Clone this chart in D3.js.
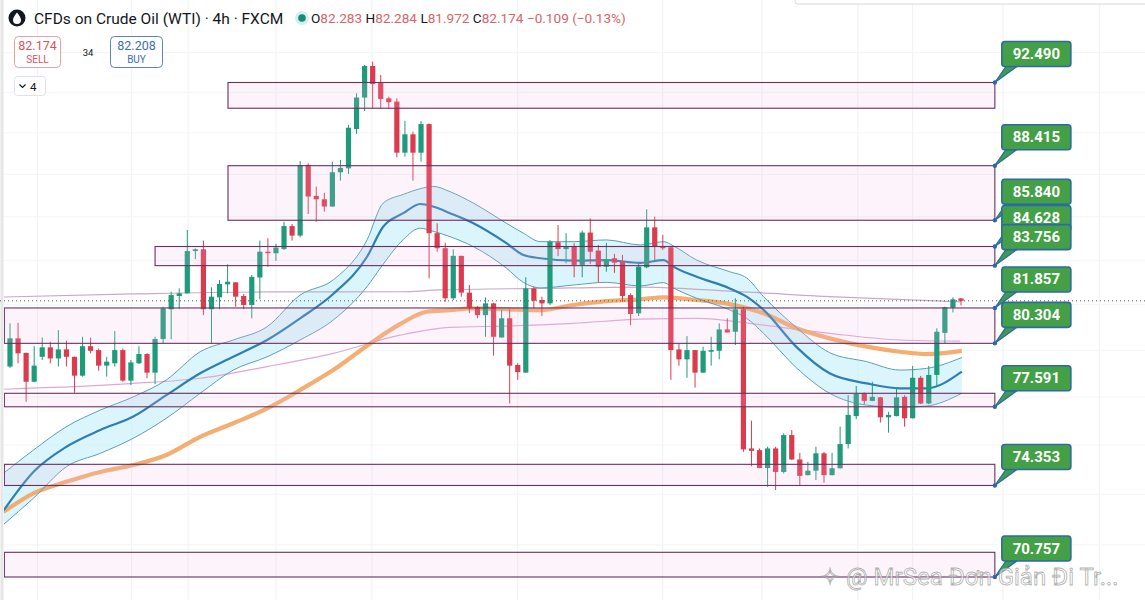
<!DOCTYPE html>
<html>
<head>
<meta charset="utf-8">
<script src="https://cdn.jsdelivr.net/npm/d3@7"></script>
<style>
body { margin: 0; background: #fff; overflow: hidden; }
svg { display: block; }
text { font-family: Roboto, "Noto Sans", "DejaVu Sans", sans-serif; }
</style>
</head>
<body>
<script>
var W = 1145, H = 600;

// 4h candles, oldest first
var opens = [79.30, 80.52, 79.89, 78.65, 79.72, 80.13, 79.65, 80.04, 79.72, 78.91,
	80.18, 80.01, 79.34, 79.44, 80.01, 78.70, 79.44, 79.84, 79.04, 80.49,
	81.80, 82.39, 82.51, 84.42, 84.50, 81.80, 82.33, 82.91, 83.00, 82.39,
	81.99, 83.22, 84.39, 84.32, 84.51, 85.57, 85.13, 88.45, 86.98, 86.82,
	86.48, 88.10, 88.29, 90.19, 91.74, 93.32, 92.46, 91.70, 91.54, 89.04,
	89.93, 89.04, 90.43, 85.24, 84.55, 82.29, 84.20, 82.54, 81.89, 81.54,
	82.06, 80.56, 81.40, 79.37, 79.04, 82.73, 82.21, 82.06, 84.82, 84.51,
	84.64, 83.79, 85.27, 84.44, 83.71, 84.09, 83.94, 82.43, 81.62, 83.68,
	85.51, 84.64, 84.59, 80.04, 79.61, 80.01, 79.04, 79.94, 79.98, 80.91,
	80.81, 81.80, 75.86, 75.79, 75.06, 75.86, 74.90, 76.41, 75.41, 74.77,
	74.95, 75.66, 74.77, 75.05, 76.04, 77.20, 78.16, 77.84, 77.99, 77.15,
	77.20, 78.01, 77.11, 78.82, 77.73, 78.94, 80.76, 81.87, 82.283];
var highs = [81.18, 81.20, 79.90, 80.18, 80.56, 80.37, 80.88, 80.42, 79.73, 80.59,
	80.55, 80.08, 79.72, 80.84, 80.08, 79.58, 80.18, 79.87, 80.59, 81.91,
	82.58, 82.73, 85.39, 84.54, 84.90, 82.78, 83.11, 83.82, 83.01, 82.48,
	83.33, 84.90, 85.01, 84.75, 85.77, 85.67, 88.64, 88.53, 87.42, 87.13,
	88.61, 88.69, 90.38, 91.95, 93.37, 93.54, 92.87, 91.78, 91.70, 90.59,
	90.06, 90.58, 90.46, 85.70, 84.80, 84.50, 84.21, 82.88, 81.94, 82.33,
	82.09, 81.77, 81.80, 79.44, 83.23, 82.81, 82.36, 84.93, 85.62, 85.24,
	84.78, 85.36, 85.93, 84.70, 84.80, 84.29, 84.24, 82.51, 83.86, 86.35,
	86.01, 85.16, 84.62, 80.30, 80.62, 80.02, 80.16, 80.59, 81.18, 81.40,
	82.29, 81.91, 77.01, 75.86, 75.93, 75.93, 76.48, 76.62, 75.68, 75.31,
	75.93, 75.72, 75.68, 76.76, 78.08, 78.47, 78.19, 78.65, 78.01, 77.38,
	78.41, 78.08, 79.33, 78.90, 79.33, 80.96, 81.91, 82.33, 82.284];
var lows = [79.24, 79.44, 77.80, 78.63, 79.58, 79.44, 79.30, 79.30, 78.18, 78.87,
	79.87, 79.12, 78.87, 79.30, 78.65, 78.51, 79.41, 78.80, 78.55, 80.30,
	80.48, 81.80, 82.50, 84.05, 81.54, 80.27, 81.80, 82.51, 81.91, 81.80,
	81.40, 82.24, 83.71, 83.97, 84.47, 84.90, 85.05, 86.13, 85.77, 86.24,
	86.47, 87.70, 88.02, 89.95, 91.07, 91.21, 91.21, 91.21, 88.82, 88.85,
	87.70, 88.61, 83.18, 84.39, 82.13, 82.21, 82.36, 81.63, 81.40, 80.59,
	79.77, 80.55, 77.73, 78.73, 79.03, 81.84, 81.50, 81.99, 84.19, 83.86,
	83.23, 83.23, 83.83, 82.99, 83.48, 83.43, 82.13, 81.10, 81.50, 83.64,
	84.01, 84.47, 78.73, 79.34, 78.82, 78.40, 79.03, 79.34, 79.61, 80.77,
	80.23, 75.72, 75.13, 75.05, 74.30, 74.17, 74.84, 75.38, 74.34, 74.76,
	74.57, 74.46, 74.76, 75.04, 75.86, 77.07, 77.70, 77.83, 76.93, 76.51,
	77.19, 76.76, 77.10, 77.70, 77.70, 78.44, 80.30, 81.66, 81.972];
var closes = [80.52, 79.87, 78.65, 79.34, 80.13, 79.65, 80.04, 79.72, 78.91, 80.18,
	79.98, 79.34, 79.51, 80.01, 78.70, 79.48, 79.84, 79.04, 80.49, 81.84,
	82.43, 82.51, 84.42, 84.50, 81.80, 82.36, 82.93, 83.03, 82.36, 81.99,
	83.25, 84.39, 84.35, 84.58, 85.57, 85.13, 88.45, 86.95, 86.82, 86.48,
	88.10, 88.31, 90.25, 91.74, 93.32, 92.41, 91.67, 91.51, 89.04, 89.93,
	89.04, 90.43, 85.24, 84.55, 82.29, 84.20, 82.54, 81.89, 81.54, 82.06,
	80.59, 81.40, 79.34, 79.06, 82.73, 82.18, 82.06, 84.85, 84.51, 84.62,
	83.79, 85.27, 84.39, 83.71, 84.05, 83.89, 82.39, 81.59, 83.71, 85.51,
	84.62, 84.55, 80.01, 79.61, 80.01, 79.04, 79.98, 80.01, 80.91, 80.78,
	81.80, 75.82, 75.76, 75.06, 75.86, 74.90, 76.41, 75.41, 74.74, 74.95,
	75.66, 74.77, 75.05, 76.04, 77.25, 78.13, 77.84, 78.01, 77.15, 77.25,
	77.99, 77.11, 78.82, 77.73, 78.94, 80.81, 81.89, 82.24, 82.174];

// ema channel (candle index -> price)
var emaIdx = [-0.8, 2.9, 7, 11.2, 15.3, 19.4, 23.6, 27.7, 31.9, 36, 40.1, 44.3, 46.3, 48.8, 50.9, 52.5, 54.6, 57.5,
	61.6, 63.7, 65.8, 69.9, 74, 78.2, 81.1, 82.3, 85.2, 89.3, 91.4, 93.5, 97.6, 101.7, 106.3, 110.4, 113.7, 118.1];
var emaMid = [73.35, 74.90, 75.93, 76.62, 77.18, 78.08, 79.01, 79.72, 80.45, 81.40, 82.48, 84.16, 85.54, 86.17, 86.60, 86.48, 86.17, 85.70,
	84.78, 84.24, 84.09, 83.98, 84.01, 83.88, 84.01, 83.71, 83.25, 82.73, 82.36, 81.77, 80.14, 79.01, 78.58, 78.37, 78.37, 79.08];
var emaUp = [74.85, 75.79, 76.76, 77.45, 78.01, 78.73, 79.94, 80.45, 81.03, 82.43, 83.11, 84.93, 86.64, 87.05, 87.32, 87.43, 87.18, 86.64,
	85.70, 85.24, 84.85, 84.85, 84.93, 84.70, 84.85, 84.66, 84.01, 83.48, 83.20, 82.36, 80.99, 79.90, 79.51, 79.15, 79.22, 79.69];
var emaLow = [72.80, 73.84, 75.11, 75.66, 76.28, 77.11, 78.16, 79.15, 79.72, 80.45, 81.32, 82.81, 83.82, 84.95, 85.47, 85.33, 85.08, 84.62,
	83.64, 83.00, 82.75, 82.88, 83.00, 82.84, 82.99, 82.75, 82.29, 81.77, 81.40, 80.74, 79.24, 78.16, 77.66, 77.57, 77.62, 78.16];

// slow moving averages
var maIdx = [-0.8, 2.9, 7, 11.2, 15.3, 19.4, 23.6, 27.7, 31.9, 36, 40.1, 44.7, 48.4, 51.7, 54.6, 57.5,
	61.6, 65.8, 69.9, 74, 78.2, 81.1, 85.2, 89.3, 93.5, 97.6, 101.7, 106.3, 110.4, 113.7, 118.1];
var maOrange = [73.30, 74.04, 74.50, 74.90, 75.18, 75.59, 76.34, 76.90, 77.52, 78.30, 79.15, 80.30, 81.14, 81.69, 81.76, 81.84,
	81.80, 81.76, 81.99, 82.16, 82.24, 82.33, 82.21, 82.03, 81.62, 80.96, 80.52, 80.16, 79.94, 79.84, 79.98];
var pinkIdx = [-0.8, 15.3, 23.6, 31.9, 40.1, 48.4, 54.6, 61.6, 69.9, 78.2, 85.2, 93.5, 101.7, 110.4, 117.9];
var maPink = [78.33, 78.58, 78.80, 79.30, 79.87, 80.66, 81.00, 81.06, 81.18, 81.36, 81.40, 81.10, 80.74, 80.45, 80.40];
var mauveIdx = [-1.2, 15.3, 31.8, 48.4, 53.4, 65.8, 78.2, 85.2, 101.7, 117.9];
var maMauve = [82.34, 82.48, 82.57, 82.58, 82.66, 82.73, 82.79, 82.69, 82.36, 82.13];

// supply / demand zones
var zoneTop = [92.490, 88.415, 84.628, 81.857, 78.16, 75.21, 71.71];
var zoneBottom = [91.21, 85.840, 83.756, 80.304, 77.591, 74.353, 70.757];
var zoneStart = [27.05, 27.05, 18, -0.7, -0.7, -0.7, -0.7];
var zoneEnd = 122.2;

// price labels on the zone edges
var levels = [92.490, 88.415, 85.840, 84.628, 83.756, 81.857, 80.304, 77.591, 74.353, 70.757];

var lastPrice = 82.174;
var gridIdx = [3.4, 15.1, 22.1, 33, 44.9, 63, 81, 93.3, 105.2, 112, 123.2, 135.2];
var gridPrices = [72, 74, 76, 78, 80, 82, 84, 86, 88, 90, 92, 94];

var up = "#1f9a7b", down = "#dc3b4e";

var x = d3.scaleLinear().domain([0, 118]).range([10, 961]);
var y = d3.scaleLog().domain([70.757, 92.49]).range([577, 82.5]);

var svg = d3.select("body").append("svg")
	.attr("width", W)
	.attr("height", H);

svg.append("rect").attr("width", W).attr("height", H).attr("fill", "#fff");

svg.append("defs").append("clipPath").attr("id", "plot")
	.append("rect").attr("x", 4).attr("y", 0).attr("width", W - 4).attr("height", H);

// grid
var grid = svg.append("g");
grid.selectAll(".vg").data(gridIdx).enter().append("line")
	.attr("x1", function(d) { return x(d); })
	.attr("x2", function(d) { return x(d); })
	.attr("y1", 0).attr("y2", H)
	.attr("stroke", "#eff1f5");
grid.selectAll(".hg").data(gridPrices).enter().append("line")
	.attr("x1", 0).attr("x2", W)
	.attr("y1", function(d) { return y(d); })
	.attr("y2", function(d) { return y(d); })
	.attr("stroke", "#f3f4f7");

svg.append("line")
	.attr("x1", 2).attr("x2", 2).attr("y1", 0).attr("y2", H)
	.attr("stroke", "#e6e6e6").attr("stroke-width", 3);

var plot = svg.append("g").attr("clip-path", "url(#plot)");

function pts(idx, vals) {
	return idx.map(function(d, i) { return [d, vals[i]]; });
}

var line = d3.line()
	.x(function(d) { return x(d[0]); })
	.y(function(d) { return y(d[1]); })
	.curve(d3.curveMonotoneX);

// ema band fill
var band = d3.area()
	.x(function(d, i) { return x(emaIdx[i]); })
	.y0(function(d, i) { return y(emaLow[i]); })
	.y1(function(d, i) { return y(emaUp[i]); })
	.curve(d3.curveMonotoneX);

plot.append("path")
	.attr("d", band(emaIdx))
	.attr("fill", "#c6eff9")
	.attr("fill-opacity", 0.65);

plot.append("path")
	.attr("d", line(pts(mauveIdx, maMauve)))
	.attr("fill", "none")
	.attr("stroke", "#c9aac6")
	.attr("stroke-width", 1.2);

plot.append("path")
	.attr("d", line(pts(pinkIdx, maPink)))
	.attr("fill", "none")
	.attr("stroke", "#e2a6d6")
	.attr("stroke-width", 1.2);

plot.append("path")
	.attr("d", line(pts(maIdx, maOrange)))
	.attr("fill", "none")
	.attr("stroke", "#f3a562")
	.attr("stroke-opacity", 0.9)
	.attr("stroke-width", 4.2);

plot.append("path")
	.attr("d", line(pts(emaIdx, emaUp)))
	.attr("fill", "none")
	.attr("stroke", "#5b9fb8")
	.attr("stroke-width", 1);

plot.append("path")
	.attr("d", line(pts(emaIdx, emaLow)))
	.attr("fill", "none")
	.attr("stroke", "#5b9fb8")
	.attr("stroke-width", 1);

plot.append("path")
	.attr("d", line(pts(emaIdx, emaMid)))
	.attr("fill", "none")
	.attr("stroke", "#2f7fb4")
	.attr("stroke-width", 2.2);

// candles
var candles = plot.selectAll(".c").data(opens).enter().append("g");

candles.append("line")
	.attr("x1", function(d, i) { return x(i); })
	.attr("x2", function(d, i) { return x(i); })
	.attr("y1", function(d, i) { return y(highs[i]); })
	.attr("y2", function(d, i) { return y(lows[i]); })
	.attr("stroke", function(d, i) { return closes[i] >= d ? up : down; })
	.attr("stroke-width", 1);

candles.append("rect")
	.attr("x", function(d, i) { return x(i) - 2.6; })
	.attr("width", 5.2)
	.attr("y", function(d, i) { return y(Math.max(d, closes[i])); })
	.attr("height", function(d, i) { return Math.max(1.5, Math.abs(y(d) - y(closes[i]))); })
	.attr("fill", function(d, i) { return closes[i] >= d ? up : down; });

// zones
plot.selectAll(".z").data(zoneTop).enter().append("rect")
	.attr("x", function(d, i) { return x(zoneStart[i]); })
	.attr("width", function(d, i) { return x(zoneEnd) - x(zoneStart[i]); })
	.attr("y", function(d) { return y(d); })
	.attr("height", function(d, i) { return y(zoneBottom[i]) - y(d); })
	.attr("fill", "#ecb8e3")
	.attr("fill-opacity", 0.16)
	.attr("stroke", "#6b2f62")
	.attr("stroke-width", 1.1);

// last price
svg.append("line")
	.attr("x1", 0).attr("x2", W)
	.attr("y1", y(lastPrice)).attr("y2", y(lastPrice))
	.attr("stroke", "#555")
	.attr("stroke-width", 1)
	.attr("stroke-dasharray", "1,3");

// level labels
var lab = svg.selectAll(".lab").data(levels).enter().append("g")
	.attr("transform", function(d) { return "translate(" + x(zoneEnd) + "," + y(d) + ")"; });

lab.append("path")
	.attr("d", "M0,0 L11,-16 L22,-16 Z")
	.attr("fill", "#3f9c48")
	.attr("stroke", "#2c69a8")
	.attr("stroke-width", 1.2);

lab.append("rect")
	.attr("x", 7).attr("y", -41)
	.attr("width", 69).attr("height", 25)
	.attr("rx", 3)
	.attr("fill", "#43a047")
	.attr("stroke", "#2c69a8")
	.attr("stroke-width", 1.6);

lab.append("circle")
	.attr("r", 2.2)
	.attr("fill", "#2c69a8");

lab.append("text")
	.attr("x", 41.5).attr("y", -23.5)
	.attr("text-anchor", "middle")
	.attr("font-size", "15px")
	.attr("font-weight", "bold")
	.attr("fill", "#fff")
	.text(function(d) { return d.toFixed(3); });

// header
svg.append("rect")
	.attr("x", 795).attr("y", -6).attr("width", 360).attr("height", 10).attr("rx", 3)
	.attr("fill", "#fff").attr("stroke", "#d8d8d8");

svg.append("circle").attr("cx", 17).attr("cy", 18).attr("r", 8.5).attr("fill", "#131722");
svg.append("path")
	.attr("d", "M17,12.5 C19.5,16 21,18 21,20 A4,4 0 0 1 13,20 C13,18 14.5,16 17,12.5 Z")
	.attr("fill", "#fff");

svg.append("text")
	.attr("x", 34).attr("y", 24)
	.attr("font-size", "15.5px")
	.attr("fill", "#131722")
	.text("CFDs on Crude Oil (WTI) · 4h · FXCM");

svg.append("circle").attr("cx", 302).attr("cy", 18).attr("r", 7).attr("fill", "#d6efec");
svg.append("circle").attr("cx", 302).attr("cy", 18).attr("r", 3.8).attr("fill", "#178a78");

var ohlc = svg.append("text")
	.attr("x", 311).attr("y", 23)
	.attr("font-size", "13.6px");
[["O", "82.283 "], ["H", "82.284 "], ["L", "81.972 "], ["C", "82.174 "], ["", "\u22120.109 (\u22120.13%)"]]
	.forEach(function(p) {
		ohlc.append("tspan").attr("fill", "#131722").text(p[0]);
		ohlc.append("tspan").attr("fill", "#d9646a").text(p[1]);
	});

svg.append("rect").attr("x", 14.5).attr("y", 36.5).attr("width", 46).attr("height", 31).attr("rx", 4)
	.attr("fill", "#fff").attr("stroke", "#e3a3a8");
svg.append("text").attr("x", 37.5).attr("y", 50).attr("text-anchor", "middle")
	.attr("font-size", "12.5px").attr("fill", "#d9535e").text("82.174");
svg.append("text").attr("x", 37.5).attr("y", 63).attr("text-anchor", "middle")
	.attr("font-size", "10px").attr("fill", "#d9535e").text("SELL");

svg.append("text").attr("x", 88).attr("y", 56).attr("text-anchor", "middle")
	.attr("font-size", "9.5px").attr("fill", "#131722").text("34");

svg.append("rect").attr("x", 110.5).attr("y", 36.5).attr("width", 52).attr("height", 31).attr("rx", 4)
	.attr("fill", "#fff").attr("stroke", "#5d86b5");
svg.append("text").attr("x", 136.5).attr("y", 50).attr("text-anchor", "middle")
	.attr("font-size", "12.5px").attr("fill", "#3c6fa8").text("82.208");
svg.append("text").attr("x", 136.5).attr("y", 63).attr("text-anchor", "middle")
	.attr("font-size", "10px").attr("fill", "#3c6fa8").text("BUY");

svg.append("rect").attr("x", 14.5).attr("y", 76.5).attr("width", 31).attr("height", 19).attr("rx", 3)
	.attr("fill", "#fff").attr("stroke", "#e0e3eb");
svg.append("path").attr("d", "M19.5,84.5 L22.5,87.5 L25.5,84.5")
	.attr("fill", "none").attr("stroke", "#131722").attr("stroke-width", 1.2);
svg.append("text").attr("x", 30).attr("y", 91).attr("font-size", "11.5px").attr("fill", "#131722").text("4");

// watermark
svg.append("text")
	.attr("x", 820).attr("y", 585)
	.attr("font-size", "24px")
	.attr("fill", "#ffffff")
	.attr("fill-opacity", 0.6)
	.attr("stroke", "#8c8c8c")
	.attr("stroke-opacity", 0.7)
	.attr("stroke-width", 0.8)
	.text("\u2727 @ MrSea Đơn Giản Đi Tr...");
</script>
</body>
</html>
